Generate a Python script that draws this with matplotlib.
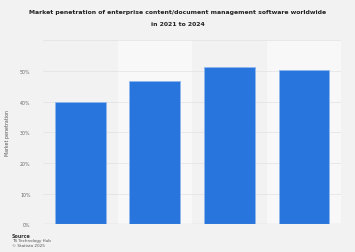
import matplotlib
matplotlib.use('Agg')
from matplotlib import pyplot as plt

# Data
years = ['2021', '2022', '2023', '2024']
penetration = [40.0, 46.9, 51.3, 50.2]
y_ticks = [0, 10, 20, 30, 40, 50]

bg = '#f2f2f2'
bar_color = '#2876dd'

fig = plt.figure(figsize=(3.55, 2.53), dpi=100, facecolor=bg)
ax = fig.add_axes([0.121, 0.1095, 0.840, 0.727])
ax.set_facecolor(bg)

x = list(range(len(years)))

# alternating column shading (2nd and 4th columns lighter)
for i in x:
    if i % 2 == 1:
        ax.axvspan(i - 0.5, i + 0.5, color='#f8f8f8', zorder=0, lw=0)

for t in y_ticks[1:] + [60]:
    ax.axhline(t, color='#e2e2e2', lw=0.5, zorder=1)

ax.bar(x, penetration, width=0.68, color=bar_color, edgecolor='#8fb6ee',
       linewidth=0.6, zorder=2)

ax.axhline(0, color='#a0a0a0', lw=0.8, zorder=3)

ax.set_xlim(-0.5, len(years) - 0.5)
ax.set_ylim(0, 60)
ax.set_yticks(y_ticks)
ax.set_yticklabels([f'{t}%' for t in y_ticks], fontsize=3.4, color='#666666')
ax.set_xticks([])
ax.tick_params(axis='y', length=0, pad=9)
for s in ax.spines.values():
    s.set_visible(False)

ax.set_ylabel('Market penetration', fontsize=3.4, color='#555555', labelpad=7)

fig.text(0.5, 0.952, 'Market penetration of enterprise content/document management software worldwide',
         ha='center', va='center', fontsize=4.4, fontweight='bold', color='#222222')
fig.text(0.5, 0.905, 'in 2021 to 2024', ha='center', va='center', fontsize=4.4,
         fontweight='bold', color='#222222')

fig.text(0.033, 0.067, 'Source', fontsize=3.4, fontweight='bold', color='#333333', va='center')
fig.text(0.033, 0.047, 'TS Technology Hub', fontsize=3.0, color='#555555', va='center')
fig.text(0.033, 0.027, '© Statista 2025', fontsize=3.0, color='#555555', va='center')

fig.savefig('out.png', dpi=100, facecolor=bg)
